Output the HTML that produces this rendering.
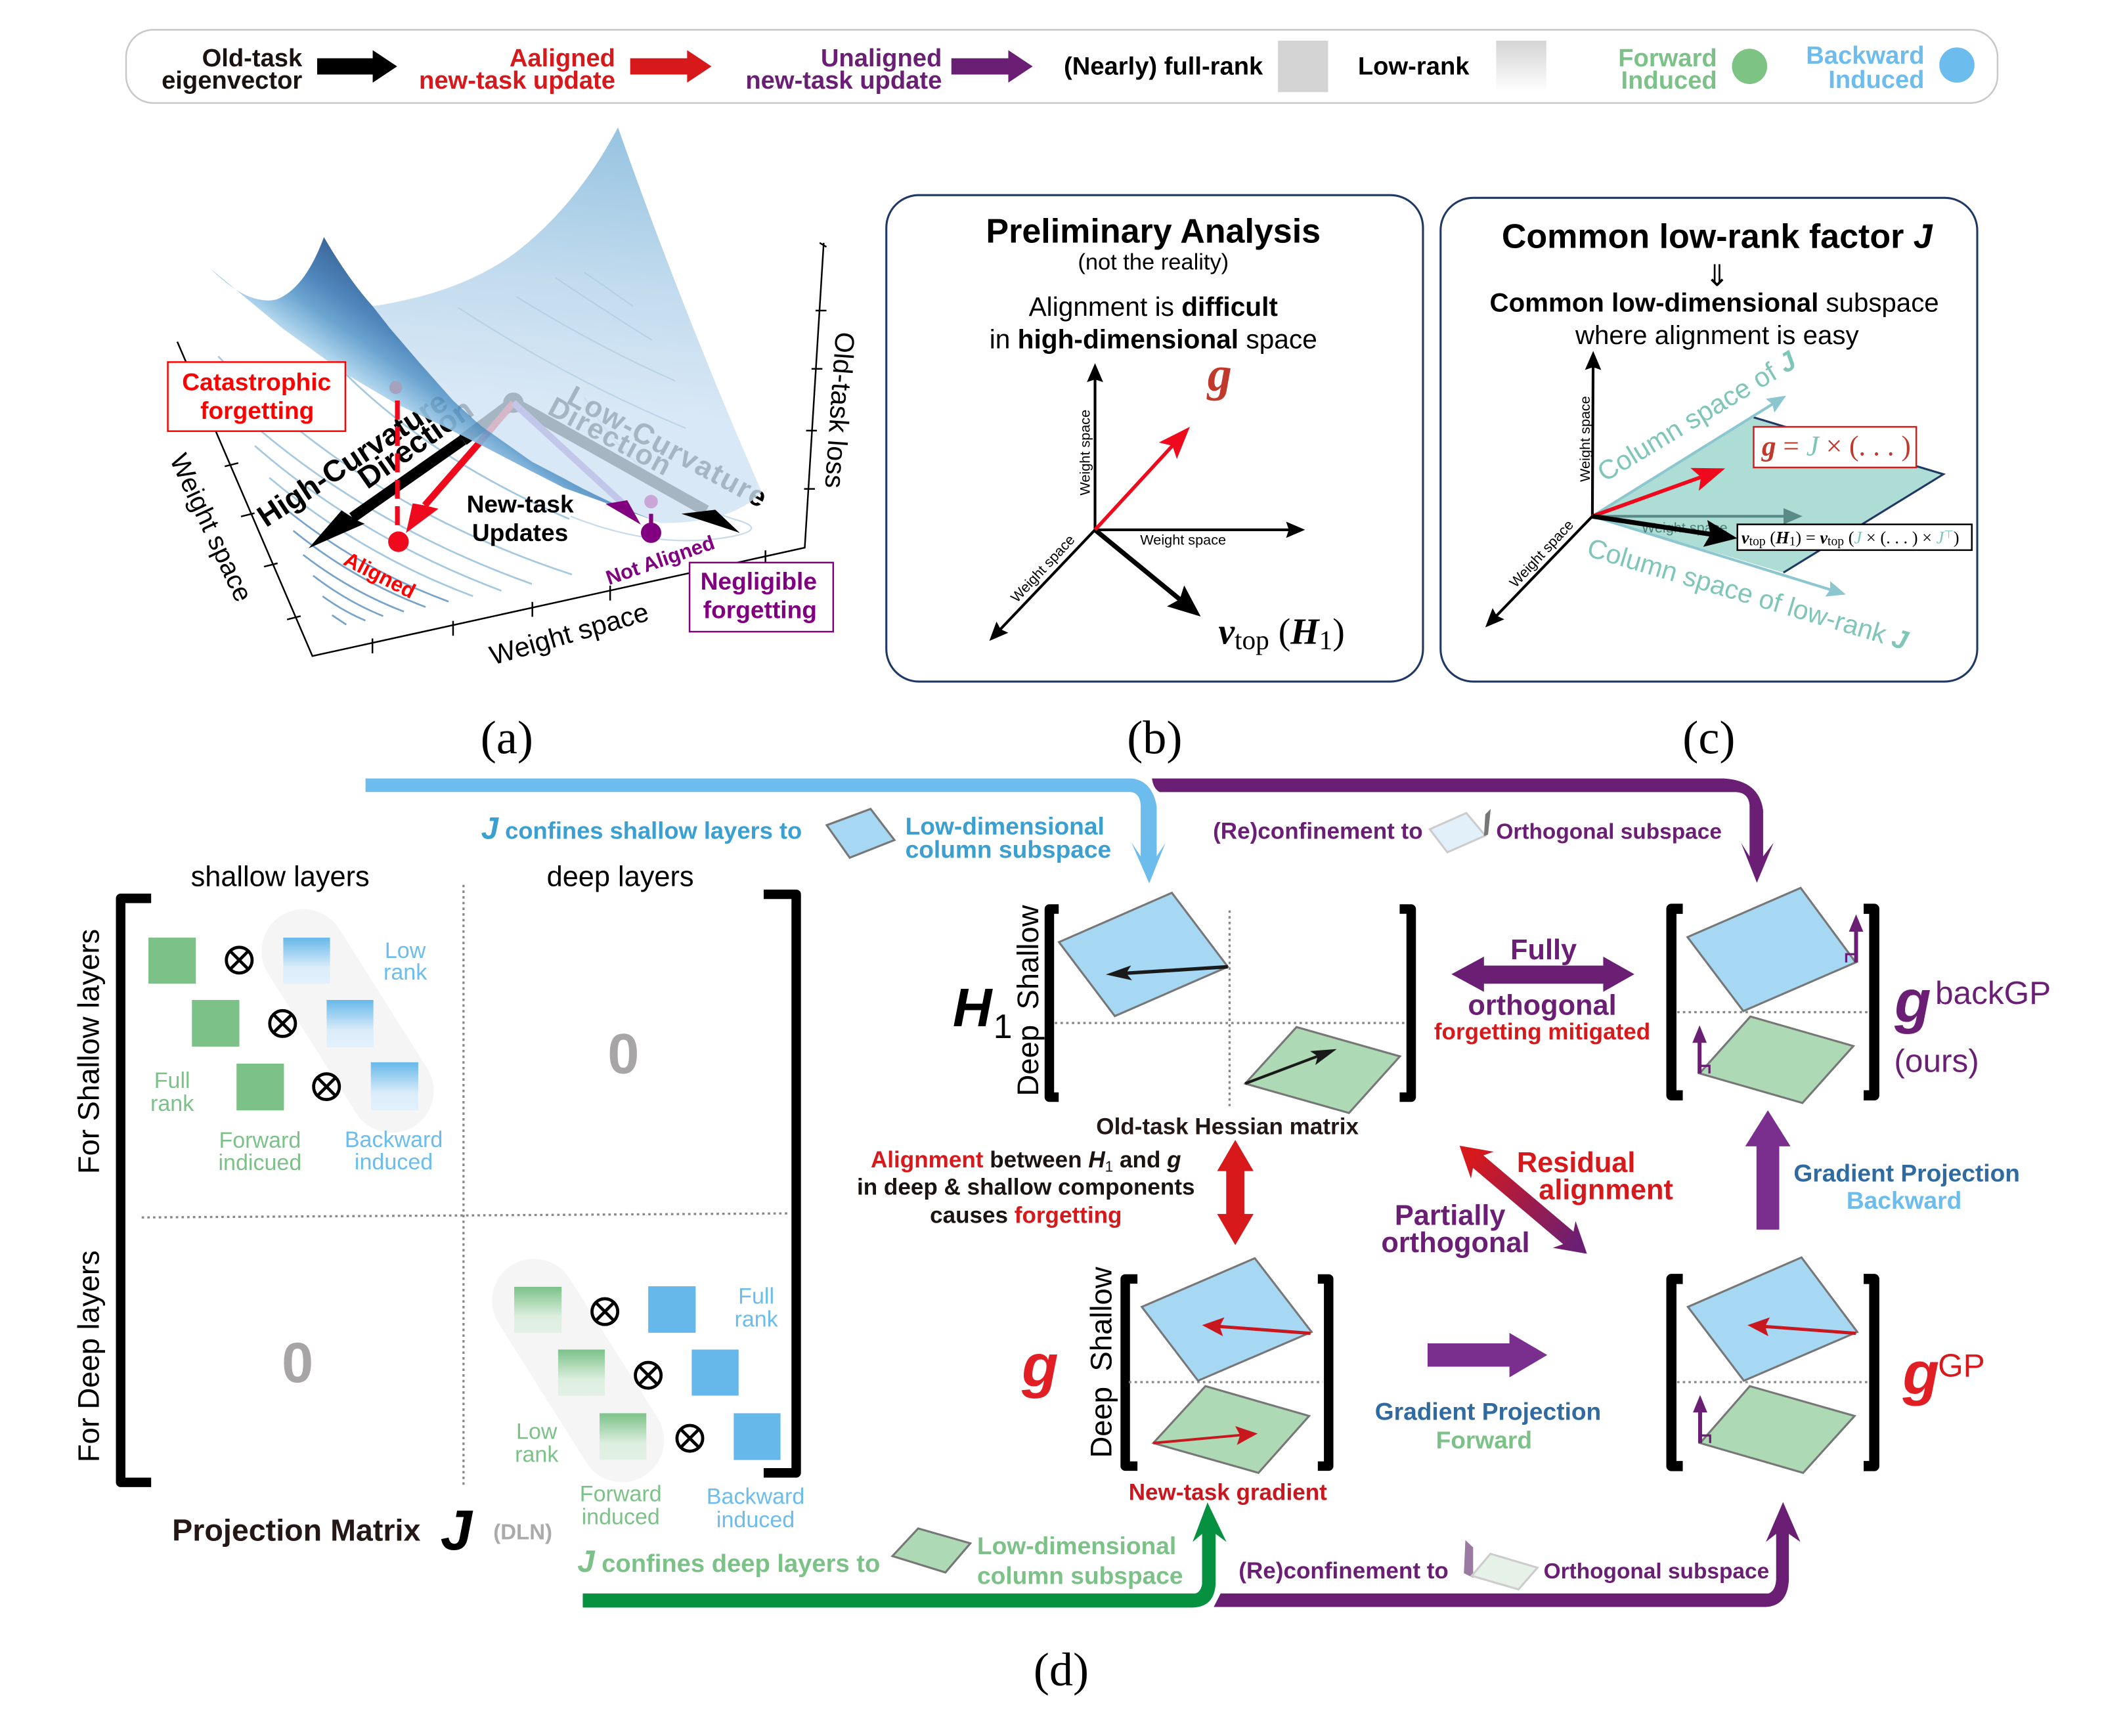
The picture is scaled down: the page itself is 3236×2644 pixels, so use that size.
<!DOCTYPE html>
<html><head><meta charset="utf-8"><style>
html,body{margin:0;padding:0;background:#fff}
svg{display:block}
text{font-family:"Liberation Sans",sans-serif}
.s{font-family:"Liberation Serif",serif}
.m{text-anchor:middle}
.e{text-anchor:end}
.bi{font-weight:bold;font-style:italic}
.dot{stroke:#888;stroke-width:1.6;stroke-dasharray:1.8 2.4;fill:none}
.br{fill:none;stroke:#000;stroke-width:7;stroke-linejoin:round}
.pb{fill:#a6d7f3;stroke:#777;stroke-width:1.5}
.pg{fill:#add9b4;stroke:#777;stroke-width:1.5}
.tr{stroke-dasharray:95 100}
</style></head><body>
<svg xmlns="http://www.w3.org/2000/svg" width="3236" height="2644" viewBox="0 0 1568 1281.2">
<defs>
<linearGradient id="gg" x1="0" y1="0" x2="0" y2="1"><stop offset="0" stop-color="#d4d4d4"/><stop offset="1" stop-color="#fff"/></linearGradient>
<linearGradient id="bq" x1="0" y1="0" x2="0" y2="1"><stop offset="0" stop-color="#66b8ea"/><stop offset=".65" stop-color="#dcedf9"/><stop offset="1" stop-color="#e2f1fb"/></linearGradient>
<linearGradient id="gq" x1="0" y1="0" x2="0" y2="1"><stop offset="0" stop-color="#7cc288"/><stop offset=".65" stop-color="#ddeee0"/><stop offset="1" stop-color="#e2f1e5"/></linearGradient>
<linearGradient id="sd" gradientUnits="userSpaceOnUse" x1="306" y1="222" x2="261.5" y2="286"><stop offset="0" stop-color="#2a5a92"/><stop offset=".36" stop-color="#3f7cb6"/><stop offset=".6" stop-color="#5f9ccc"/><stop offset=".85" stop-color="#9ac8e6"/><stop offset="1" stop-color="#c6e0f2"/></linearGradient>
<linearGradient id="sl" gradientUnits="userSpaceOnUse" x1="440" y1="100" x2="420" y2="300"><stop offset="0" stop-color="#7fb6da"/><stop offset=".55" stop-color="#b4d3ea"/><stop offset="1" stop-color="#cfe2f3"/></linearGradient>
<linearGradient id="dg" gradientUnits="userSpaceOnUse" x1="1085" y1="855" x2="1165" y2="918"><stop offset="0" stop-color="#d7191c"/><stop offset="1" stop-color="#6a1f75"/></linearGradient>
<marker id="mk" markerWidth="18" markerHeight="14" refX="14" refY="6" orient="auto" markerUnits="userSpaceOnUse"><path d="M0,0L14,6L0,12L2,6Z" fill="#000"/></marker>
<marker id="mk2" markerWidth="28" markerHeight="22" refX="24" refY="10" orient="auto" markerUnits="userSpaceOnUse"><path d="M0,0L24,10L0,20L4,10Z" fill="#000"/></marker>
<marker id="mr" markerWidth="28" markerHeight="22" refX="24" refY="9" orient="auto" markerUnits="userSpaceOnUse"><path d="M0,0L24,9L0,18L5,9Z" fill="#ee0a1c"/></marker>
<marker id="mkd" markerWidth="22" markerHeight="14" refX="19" refY="5.5" orient="auto" markerUnits="userSpaceOnUse"><path d="M0,0L19,5.5L0,11L4,5.5Z" fill="#1a1a1a"/></marker>
<marker id="mr2" markerWidth="20" markerHeight="16" refX="16" refY="7" orient="auto" markerUnits="userSpaceOnUse"><path d="M0,0L16,7L0,14L3,7Z" fill="#c8171e"/></marker>
<marker id="mt" markerWidth="18" markerHeight="14" refX="14" refY="6" orient="auto" markerUnits="userSpaceOnUse"><path d="M0,0L14,6L0,12L2,6Z" fill="#8cc6cf"/></marker>
<marker id="md" markerWidth="18" markerHeight="14" refX="14" refY="6" orient="auto" markerUnits="userSpaceOnUse"><path d="M0,0L14,6L0,12L0,6Z" fill="#5a8a85"/></marker>
</defs>
<rect width="1568" height="1282" fill="#fff"/>

<!-- Legend -->
<rect x="93" y="22" width="1381" height="54" rx="20" fill="#fff" stroke="#c8c8c8" stroke-width="1.2"/>
<g font-size="18.5" font-weight="bold">
<text class="e" x="223" y="49" fill="#1a1311">Old-task</text><text class="e" x="223" y="65.5" fill="#1a1311">eigenvector</text>
<text class="e" x="454" y="49" fill="#d7191c">Aaligned</text><text class="e" x="454" y="65.5" fill="#d7191c">new-task update</text>
<text class="e" x="695" y="49" fill="#6a1f75">Unaligned</text><text class="e" x="695" y="65.5" fill="#6a1f75">new-task update</text>
<text x="785" y="55" fill="#000">(Nearly) full-rank</text>
<text x="1002" y="55" fill="#000">Low-rank</text>
<text class="e" x="1267" y="49" fill="#7cc288">Forward</text><text class="e" x="1267" y="65.5" fill="#7cc288">Induced</text>
<text class="e" x="1420" y="47" fill="#6cbced">Backward</text><text class="e" x="1420" y="65" fill="#6cbced">Induced</text>
</g>
<path d="M234,43H275V37L293,49L275,61V55H234Z" fill="#000"/>
<path d="M465,43H507V37L525,49L507,61V55H465Z" fill="#d7191c"/>
<path d="M702,43H744V37L762,49L744,61V55H702Z" fill="#6a1f75"/>
<rect x="943" y="30" width="37" height="38" fill="#d4d4d4"/>
<rect x="1104" y="30" width="37" height="38" fill="url(#gg)"/>
<circle cx="1291" cy="49" r="13" fill="#7dc383"/>
<circle cx="1444" cy="48" r="13" fill="#6cbced"/>

<!-- Panel a floor -->
<g transform="translate(0.8,1.2)">
<g fill="none" stroke="#000" stroke-width="1.2">
<path d="M130,251L229.7,483L593,403L607,178"/>
<path d="M165,343l10,-2.5M177,380l10,-2.5M194,417l10,-2.5M211,456l10,-2.5"/>
<path d="M274,470v11M333.5,457v11M392,443v11M449.4,431v11M564,405v11"/>
<path d="M601,228h8M598,271h8M594,316.6h8M592.5,359.6h8M604,178l5,3"/>
</g>
</g>
<g fill="none" stroke="#5f93c2" stroke-width="1.3" opacity=".85">
<path d="M245,454Q251,458 255.5,461"/>
<path d="M238,440Q253,451 269.6,458"/>
<path d="M231,424.8Q256,444 282.7,454.7"/>
<path d="M223.7,409.5Q258,436 298,451.4"/>
<path d="M216.4,391.7Q261,428 314,448"/>
<path d="M207.5,373Q263,419 331,444"/>
</g>
<g fill="none" stroke="#9cc3de" stroke-width="1.3" opacity=".9">
<path d="M198.7,352.6Q266,409 349,440"/>
<path d="M188,329Q266,397 370,436"/>
<path d="M173,301Q266,386 392.5,431"/>
<path d="M161,263Q266,373 422,424"/>
<path d="M255,276Q320,340 420,383"/>
</g>
<path d="M431,293Q471,361 541,383Q571,391 534,397Q481,405 421,381" fill="none" stroke="#c6dcec" stroke-width="1.1"/>
<!-- a: under-surface items -->
<path d="M378.8,297.2L341.6,324.7" stroke="#000" stroke-width="9" fill="none"/>
<path d="M378.8,297.2L521,377" stroke="#000" stroke-width="8.5" fill="none"/>
<circle cx="378.8" cy="297.2" r="7.5" fill="#000"/>
<path d="M378.8,297.2L351.3,329.5" stroke="#ee0a1c" stroke-width="5" fill="none"/>
<path d="M378.8,297.2L459,371" stroke="#8e5cc0" stroke-width="5" fill="none"/>
<g font-weight="bold" fill="#000">
<text transform="translate(196.3,389.6) rotate(-33.3)" font-size="22.3">High-Curvature</text>
<text transform="translate(271,361.5) rotate(-35)" font-size="22.5">Direction</text>
<text transform="translate(417,297) rotate(28.5)" font-size="21.5" letter-spacing="1">Low-Curvature</text>
<text transform="translate(403,305) rotate(28)" font-size="21" letter-spacing="1">Direction</text>
</g>
<!-- surface -->
<path d="M275,226Q341,216 381,186Q426,151 456,94C476,151 513,251 562,363Q541,386 488,386L416,360L392.5,345L353.7,313.4L334.3,295.6L308.5,266.5L287.5,242Z" fill="url(#sl)" opacity=".8"/>
<g fill="none" stroke="#a9c8de" stroke-width="1" opacity=".6">
<path d="M431,201Q446,211 467,226"/>
<path d="M410,205Q441,226 481,251"/>
<path d="M381,219Q441,256 498,281"/>
<path d="M338,227Q421,281 506,316"/>
</g>
<path d="M155,198Q183,226 204,221Q225,213 239,175Q257,206 275,226L287.5,242L308.5,266.5L334.3,295.6L353.7,313.4L392.5,340.8L416,353Q450,372 488,386L416,360L392.5,348L357,329.5L324.7,313.4L292.4,298L255,276L208.4,242.3Z" fill="url(#sd)" opacity=".92"/>
<!-- a: over-surface -->
<path d="M341.6,324.7L260,382" stroke="#000" stroke-width="8" fill="none"/>
<path d="M227.7,404.6L252,376.7L257,380L264,384.4L269,386.5Z" fill="#000"/>
<path d="M351.3,329.5L313.4,373" stroke="#ee0a1c" stroke-width="5" fill="none"/>
<path d="M299.6,393.3L304.5,371.5L313.4,373L323.5,375.5Z" fill="#ee0a1c"/>
<path d="M293.2,295.6V393" stroke="#ee0a1c" stroke-width="3.5" stroke-dasharray="14 5.5" fill="none"/>
<circle cx="292" cy="286" r="4.8" fill="#a6a2bd"/>
<circle cx="294" cy="399.8" r="7.6" fill="#ee0a1c"/>
<g transform="translate(0.8,1.2)">
<path d="M472,386L446,370.7L462,368Z" fill="#800080"/>
<circle cx="479.6" cy="392" r="7.5" fill="#800080"/>
<path d="M479.6,378V388" stroke="#800080" stroke-width="3"/>
<circle cx="479.6" cy="369" r="5" fill="#c9a6d6"/>
<path d="M545,392L502,378L527,375Z" fill="#000"/>
<rect x="123" y="266" width="131" height="51" fill="#fff" stroke="#f00" stroke-width="1.2"/>
<text class="m" x="188.5" y="287" font-size="18" font-weight="bold" fill="#f00">Catastrophic</text>
<text class="m" x="189" y="308" font-size="18" font-weight="bold" fill="#f00">forgetting</text>
<rect x="508" y="414" width="106" height="51" fill="#fff" stroke="#800080" stroke-width="1.2"/>
<text class="m" x="559" y="434" font-size="18" font-weight="bold" fill="#800080">Negligible</text>
<text class="m" x="560" y="455" font-size="18" font-weight="bold" fill="#800080">forgetting</text>
<text class="m" x="383" y="377" font-size="18" font-weight="bold">New-task</text>
<text class="m" x="383" y="398" font-size="18" font-weight="bold">Updates</text>
<text class="m" transform="translate(277,428) rotate(27)" font-size="15.5" font-weight="bold" fill="#f00">Aligned</text>
<text class="m" transform="translate(488,417) rotate(-19)" font-size="15" font-weight="bold" fill="#800080">Not Aligned</text>
<text class="m" transform="translate(149,391) rotate(65)" font-size="19.5">Weight space</text>
<text class="m" transform="translate(421,473) rotate(-16)" font-size="20">Weight space</text>
<text class="m" transform="translate(612,301) rotate(94)" font-size="20">Old-task loss</text>
</g>

<text class="s m" x="374" y="556" font-size="35">(a)</text>
<text class="s m" x="852" y="556" font-size="35">(b)</text>
<text class="s m" x="1261" y="556" font-size="35">(c)</text>
<text class="s m" x="783" y="1244" font-size="35">(d)</text>

<!-- Panel b -->
<rect x="654" y="144" width="396" height="359" rx="24" fill="#fff" stroke="#1f3864" stroke-width="1.5"/>
<text class="m" x="851" y="179" font-size="25.2" font-weight="bold">Preliminary Analysis</text>
<text class="m" x="851" y="199" font-size="16.7">(not the reality)</text>
<text class="m" x="851" y="233" font-size="19.7">Alignment is <tspan font-weight="bold">difficult</tspan></text>
<text class="m" x="851" y="257" font-size="19.7">in <tspan font-weight="bold">high-dimensional</tspan> space</text>
<g fill="none" stroke="#000" stroke-width="2">
<line class="tr" pathLength="100" x1="808" y1="391" x2="808" y2="268" marker-end="url(#mk)"/>
<line class="tr" pathLength="100" x1="808" y1="391" x2="963" y2="391" marker-end="url(#mk)"/>
<line class="tr" pathLength="100" x1="808" y1="391" x2="730" y2="473" marker-end="url(#mk)"/>
<line class="tr" pathLength="100" x1="808" y1="391" x2="886" y2="455" stroke-width="3.5" marker-end="url(#mk2)"/>
<line class="tr" pathLength="100" x1="808" y1="391" x2="878" y2="315" stroke="#ee0a1c" stroke-width="2.6" marker-end="url(#mr)"/>
</g>
<text class="s bi" x="891" y="288" font-size="36" fill="#c0392b">g</text>
<text class="m" transform="translate(804,334) rotate(-90)" font-size="10.5">Weight space</text>
<text class="m" x="873" y="402" font-size="10.5">Weight space</text>
<text class="m" transform="translate(772,422) rotate(-47)" font-size="10.5">Weight space</text>
<text class="s" x="899" y="475" font-size="27"><tspan font-weight="bold" font-style="italic">v</tspan><tspan font-size="20" dy="4">top</tspan><tspan dy="-4"> (</tspan><tspan font-weight="bold" font-style="italic">H</tspan><tspan font-size="20" dy="4">1</tspan><tspan dy="-4">)</tspan></text>

<!-- Panel c -->
<rect x="1063" y="146" width="396" height="357" rx="24" fill="#fff" stroke="#1f3864" stroke-width="1.5"/>
<text class="m" x="1267" y="183" font-size="25.2" font-weight="bold">Common low-rank factor <tspan font-style="italic">J</tspan></text>
<text class="m" x="1267" y="211" font-size="22" style="font-family:'DejaVu Sans',sans-serif">⇓</text>
<text class="m" x="1265" y="230" font-size="19.5"><tspan font-weight="bold">Common low-dimensional</tspan> subspace</text>
<text class="m" x="1267" y="254" font-size="19.5">where alignment is easy</text>
<path d="M1175,381L1294,308L1434,350L1316,422.6Z" fill="#aeddd6"/>
<path d="M1294,308L1434,350L1316,422.6" fill="none" stroke="#1f3864" stroke-width="1.5"/>
<g fill="none" stroke-width="2">
<line class="tr" pathLength="100" x1="1175" y1="381" x2="1318" y2="292" stroke="#8cc6cf" marker-end="url(#mt)"/>
<line class="tr" pathLength="100" x1="1175" y1="381" x2="1362" y2="438.7" stroke="#8cc6cf" marker-end="url(#mt)"/>
<line class="tr" pathLength="100" x1="1175" y1="381" x2="1175.6" y2="259" stroke="#000" marker-end="url(#mk)"/>
<line class="tr" pathLength="100" x1="1175" y1="381" x2="1330" y2="381" stroke="#5a8a85" marker-end="url(#md)"/>
<line class="tr" pathLength="100" x1="1175" y1="381" x2="1096" y2="463" stroke="#000" marker-end="url(#mk)"/>
</g>
<text class="m" x="1243" y="393" font-size="10.5" fill="#4f7f79">Weight space</text>
<g fill="none">
<line class="tr" pathLength="100" x1="1175" y1="381" x2="1273" y2="345.7" stroke="#ee0a1c" stroke-width="2.8" marker-end="url(#mr)"/>
<line class="tr" pathLength="100" x1="1175" y1="381" x2="1282" y2="397.3" stroke="#000" stroke-width="3.5" marker-end="url(#mk2)"/>
</g>
<rect x="1294" y="315" width="120" height="30" fill="#fff" stroke="#d7191c" stroke-width="1.2"/>
<text class="s" x="1300" y="336" font-size="21" fill="#c0392b"><tspan font-weight="bold" font-style="italic">g</tspan> = <tspan fill="#7fc6b8" font-style="italic">J</tspan> × (. . . )</text>
<rect x="1282" y="387" width="173" height="19" fill="#fff" stroke="#000" stroke-width="1.2"/>
<text class="s" x="1285" y="401" font-size="12.8"><tspan font-weight="bold" font-style="italic">v</tspan><tspan font-size="9.5" dy="1.5">top</tspan><tspan dy="-1.5"> (</tspan><tspan font-weight="bold" font-style="italic">H</tspan><tspan font-size="9.5" dy="1.5">1</tspan><tspan dy="-1.5">) = </tspan><tspan font-weight="bold" font-style="italic">v</tspan><tspan font-size="9.5" dy="1.5">top</tspan><tspan dy="-1.5"> (</tspan><tspan fill="#7fc6b8" font-style="italic">J</tspan> × (. . . ) × <tspan fill="#7fc6b8" font-style="italic">J</tspan><tspan fill="#7fc6b8" font-size="8" dy="-4">⊤</tspan><tspan dy="4">)</tspan></text>
<text transform="translate(1184,356) rotate(-31)" font-size="20" fill="#7fc6b8">Column space of <tspan font-weight="bold" font-style="italic">J</tspan></text>
<text transform="translate(1170,410) rotate(16.5)" font-size="19.8" fill="#7fc6b8">Column space of low-rank <tspan font-weight="bold" font-style="italic">J</tspan></text>
<text class="m" transform="translate(1173,324) rotate(-90)" font-size="10.5">Weight space</text>
<text class="m" transform="translate(1140,411) rotate(-47)" font-size="10.5">Weight space</text>

<!-- Panel d left matrix -->
<path d="M224,702L289,805" stroke="#f5f5f5" stroke-width="62" stroke-linecap="round"/>
<path d="M394,960L459,1063" stroke="#f5f5f5" stroke-width="62" stroke-linecap="round"/>
<path d="M111.5,663H89V1094H111.5" fill="none" stroke="#000" stroke-width="7" stroke-linejoin="round"/>
<path d="M563.5,660H587.5V1087H563.5" fill="none" stroke="#000" stroke-width="7" stroke-linejoin="round"/>
<path class="dot" d="M342,653V1098"/>
<path class="dot" d="M104.5,898.5L582,895.5"/>
<text class="m" x="206.7" y="654" font-size="21">shallow layers</text>
<text class="m" x="457.7" y="654" font-size="21">deep layers</text>
<text class="m" transform="translate(73,776) rotate(-90)" font-size="22">For Shallow layers</text>
<text class="m" transform="translate(73,1001) rotate(-90)" font-size="22">For Deep layers</text>
<g fill="#7cc288"><rect x="109.5" y="692" width="35" height="34"/><rect x="141.6" y="738" width="35" height="34.5"/><rect x="174.5" y="785" width="35" height="34.5"/></g>
<g fill="url(#bq)"><rect x="209" y="692" width="34.5" height="34"/><rect x="241" y="738" width="34.5" height="35"/><rect x="273.6" y="784" width="35" height="35.5"/></g>
<g fill="url(#gq)"><rect x="379.4" y="949.7" width="35" height="34"/><rect x="411.8" y="996" width="34.5" height="34"/><rect x="442.4" y="1043" width="34.5" height="34.5"/></g>
<g fill="#66b8ea"><rect x="478.3" y="949.3" width="35" height="34.3"/><rect x="510.4" y="996" width="34.6" height="34"/><rect x="541.4" y="1043" width="34.5" height="34.5"/></g>
<g fill="none" stroke="#000" stroke-width="2.3">
<g transform="translate(176.5,708.6)"><circle r="9.5"/><path d="M-6.7,-6.7L6.7,6.7M6.7,-6.7L-6.7,6.7"/></g>
<g transform="translate(208.5,755.4)"><circle r="9.5"/><path d="M-6.7,-6.7L6.7,6.7M6.7,-6.7L-6.7,6.7"/></g>
<g transform="translate(240.9,802)"><circle r="9.5"/><path d="M-6.7,-6.7L6.7,6.7M6.7,-6.7L-6.7,6.7"/></g>
<g transform="translate(446.3,968)"><circle r="9.5"/><path d="M-6.7,-6.7L6.7,6.7M6.7,-6.7L-6.7,6.7"/></g>
<g transform="translate(478.3,1015)"><circle r="9.5"/><path d="M-6.7,-6.7L6.7,6.7M6.7,-6.7L-6.7,6.7"/></g>
<g transform="translate(509,1061.5)"><circle r="9.5"/><path d="M-6.7,-6.7L6.7,6.7M6.7,-6.7L-6.7,6.7"/></g>
</g>
<g font-size="16.5" text-anchor="middle">
<text x="299" y="707" fill="#6cbced">Low</text><text x="299" y="723" fill="#6cbced">rank</text>
<text x="127" y="803" fill="#7cc288">Full</text><text x="127" y="820" fill="#7cc288">rank</text>
<text x="191.8" y="847" fill="#7cc288">Forward</text><text x="191.8" y="863.5" fill="#7cc288">indicued</text>
<text x="290.5" y="846.5" fill="#6cbced">Backward</text><text x="290.5" y="863" fill="#6cbced">induced</text>
<text x="558" y="962" fill="#6cbced">Full</text><text x="558" y="979" fill="#6cbced">rank</text>
<text x="396" y="1062" fill="#7cc288">Low</text><text x="396" y="1079" fill="#7cc288">rank</text>
<text x="458" y="1108" fill="#7cc288">Forward</text><text x="458" y="1125" fill="#7cc288">induced</text>
<text x="557.5" y="1110" fill="#6cbced">Backward</text><text x="557.5" y="1127" fill="#6cbced">induced</text>
</g>
<text class="m" x="460" y="792" font-size="42" font-weight="bold" fill="#a7a5a6">0</text>
<text class="m" x="219.5" y="1020" font-size="42" font-weight="bold" fill="#a7a5a6">0</text>
<text x="127" y="1137" font-size="22.6" font-weight="bold" fill="#231815">Projection Matrix</text>
<text x="325" y="1143.5" font-size="42" font-weight="bold" font-style="italic" fill="#000">J</text>
<text x="364" y="1136" font-size="16" font-weight="bold" fill="#aaa">(DLN)</text>

<!-- Top connector -->
<path d="M269.7,574.5H835Q850,576 853.5,595V632L860,622L848,652L835,622L841.7,632V594Q841,585 834,584.5H269.7Z" fill="#6cbced"/>
<path d="M850,574.5H1272Q1298,576 1301,598V632L1308.7,622L1296.4,651.5L1284.7,622L1291,632V594Q1290,585 1281,584.6H855.7Q851,582 850,574.5Z" fill="#6a1f75"/>
<text x="355" y="619" font-weight="bold" fill="#3a9fd1" font-size="17.6"><tspan font-style="italic" font-size="23">J</tspan> confines shallow layers to</text>
<path class="pb" d="M642.4,597L660,620L627,633L610,609Z"/>
<text x="668" y="616" font-size="18" font-weight="bold" fill="#3a9fd1">Low-dimensional</text>
<text x="668" y="633" font-size="18" font-weight="bold" fill="#3a9fd1">column subspace</text>
<text x="895" y="619" font-size="17" font-weight="bold" fill="#6a1f75">(Re)confinement to</text>
<path d="M1082,600L1096,616.7L1068,629L1055,612Z" fill="#e2f0f9" stroke="#ccc" stroke-width="1.5"/>
<path d="M1100,597L1096,601L1095,617L1098,616Z" fill="#777"/>
<text x="1104" y="619" font-size="16.2" font-weight="bold" fill="#6a1f75">Orthogonal subspace</text>

<!-- H1 matrix -->
<text transform="translate(766,745) rotate(-90)" font-size="22">Shallow</text>
<text transform="translate(766,809) rotate(-90)" font-size="22">Deep</text>
<path class="br" d="M781.2,670.9H774.3V809.7H781.2"/>
<path class="br" d="M1032.8,670.9H1041.3V809.7H1032.8"/>
<path class="dot" d="M778.3,755H1037.6"/>
<path class="dot" d="M907.3,671.9V816.4"/>
<path class="pb" d="M864.7,658.9L906,713.5L822.6,749.9L781.4,695.3Z"/>
<path class="pg" d="M956.7,758L1033,779.6L995.4,821.4L918.8,799.7Z"/>
<g fill="none">
<line class="tr" pathLength="100" x1="906" y1="713.5" x2="816" y2="719.2" stroke="#1a1a1a" stroke-width="2.6" marker-end="url(#mkd)"/>
<line class="tr" pathLength="100" x1="918.8" y1="799.7" x2="986.4" y2="774.2" stroke="#1a1a1a" stroke-width="2" marker-end="url(#mkd)"/>
</g>
<text x="703" y="757.5" font-size="40" font-weight="bold" font-style="italic">H</text>
<text x="733" y="766" font-size="25">1</text>
<text class="m" x="905.7" y="837" font-size="17" font-weight="bold" fill="#231815">Old-task Hessian matrix</text>

<!-- Fully -->
<text class="m" x="1139" y="708" font-size="21" font-weight="bold" fill="#6a1f75">Fully</text>
<path d="M1071,719L1095,706V712.6H1183V706L1206,719L1183,732V726H1095V732Z" fill="#6a1f75"/>
<text class="m" x="1138" y="749" font-size="21" font-weight="bold" fill="#6a1f75">orthogonal</text>
<text class="m" x="1138" y="767" font-size="17" font-weight="bold" fill="#d7191c">forgetting mitigated</text>

<!-- gbackGP -->
<path class="br" stroke-width="7.5" style="stroke-width:7.5" d="M1241.7,670.7H1233.3V808.4H1241.7"/>
<path class="br" style="stroke-width:7.5" d="M1375.2,670.7H1383V808.4H1375.2"/>
<path class="dot" d="M1237.6,747H1378.5"/>
<path class="pb" d="M1328.7,655.3L1369.3,710.3L1286.4,746.2L1245.2,691.6Z"/>
<path class="pg" d="M1291.6,750.2L1367.6,772L1330,814L1254.1,792.2Z"/>
<g fill="none" stroke="#6a1f75">
<path d="M1369.6,710.3V686" stroke-width="2.9"/>
<path d="M1254.1,792.2V768" stroke-width="2.9"/>
<path d="M1362.3,710.3V704.2H1369.6" stroke-width="1.6"/>
<path d="M1254,786.6H1261.4V792.2" stroke-width="1.6"/>
</g>
<path d="M1369.6,674.8L1374.9,687.6H1364.3Z" fill="#6a1f75"/>
<path d="M1254.1,756.7L1259.4,769.6H1248.8Z" fill="#6a1f75"/>
<text x="1398" y="754" font-size="44" font-weight="bold" font-style="italic" fill="#6a1f75">g</text>
<text x="1428" y="741" font-size="24" fill="#6a1f75">backGP</text>
<text class="m" x="1429" y="791" font-size="24" fill="#6a1f75">(ours)</text>

<!-- Alignment area -->
<path d="M911.5,841.3L925,864.3H918.2V895.9H925L911.5,918.9L898.1,895.9H904.8V864.3H898.1Z" fill="#d7191c"/>
<g text-anchor="middle" font-size="17" font-weight="bold">
<text x="757" y="861.6" fill="#1a1311"><tspan fill="#d7191c">Alignment</tspan> between <tspan font-style="italic">H</tspan><tspan font-size="11" dy="3" font-weight="normal">1</tspan><tspan dy="-3"> and </tspan><tspan font-style="italic">g</tspan></text>
<text x="757" y="881.7" fill="#1a1311">in deep &amp; shallow components</text>
<text x="757" y="902.6" fill="#1a1311">causes <tspan fill="#d7191c">forgetting</tspan></text>
</g>
<g transform="translate(0,0)">
<path d="M1077,845.6L1102.2,850L1094.6,852.7L1161.1,909L1162.6,901.1L1171,925.3L1145.8,920.9L1153.4,918.2L1086.9,861.9L1085.4,869.8Z" fill="url(#dg)"/>
</g>
<text class="m" x="1163" y="865" font-size="21" font-weight="bold" fill="#d7191c">Residual</text>
<text class="m" x="1185" y="885" font-size="21" font-weight="bold" fill="#d7191c">alignment</text>
<text class="m" x="1070" y="904" font-size="21" font-weight="bold" fill="#6a1f75">Partially</text>
<text class="m" x="1074" y="924" font-size="21" font-weight="bold" fill="#6a1f75">orthogonal</text>
<text class="m" x="1407" y="872" font-size="18" font-weight="bold" fill="#2f6aa0">Gradient Projection</text>
<text class="m" x="1405" y="892" font-size="18" font-weight="bold" fill="#6cbced">Backward</text>
<path d="M1304.5,819.4L1321.2,846H1312.9V907.5H1296.1V846H1287.8Z" fill="#7a2f8e"/>

<!-- g matrix -->
<text transform="translate(820,1012) rotate(-90)" font-size="22">Shallow</text>
<text transform="translate(820,1076) rotate(-90)" font-size="22">Deep</text>
<path class="br" d="M839.3,943.9H830.3V1082H839.3"/>
<path class="br" d="M972.4,943.9H980.4V1082H972.4"/>
<path class="dot" d="M833,1020H976"/>
<path class="pb" d="M925.9,928.6L967.8,983L884,1019L842.5,964.5Z"/>
<path class="pg" d="M889.5,1023L966,1045L928.6,1087L851,1065Z"/>
<g fill="none">
<line class="tr" pathLength="100" x1="967" y1="984" x2="887" y2="978" stroke="#c8171e" stroke-width="2.4" marker-end="url(#mr2)"/>
<line class="tr" pathLength="100" x1="851" y1="1065" x2="928" y2="1058" stroke="#c8171e" stroke-width="1.9" marker-end="url(#mr2)"/>
</g>
<text x="754" y="1023" font-size="44" font-weight="bold" font-style="italic" fill="#e01e23">g</text>
<text class="m" x="906" y="1107" font-size="17" font-weight="bold" fill="#c8171e">New-task gradient</text>

<!-- gGP -->
<path class="br" style="stroke-width:7.5" d="M1241.7,943.9H1233.3V1082H1241.7"/>
<path class="br" style="stroke-width:7.5" d="M1375.2,943.9H1383V1082H1375.2"/>
<g transform="translate(-1.5,0)">
<path class="dot" d="M1239,1020H1381"/>
<path class="pb" d="M1330.8,928L1372,983L1288.3,1019L1247,964.5Z"/>
<path class="pg" d="M1292.7,1023L1370,1045L1332,1087L1256,1065Z"/>
<line class="tr" pathLength="100" x1="1371" y1="984" x2="1291" y2="978" stroke="#c8171e" stroke-width="2.4" marker-end="url(#mr2)"/>
<g fill="none" stroke="#6a1f75">
<path d="M1256,1065V1040" stroke-width="2.9"/>
<path d="M1256,1059.4H1263.4V1065" stroke-width="1.6"/>
</g>
<path d="M1256,1029.5L1261.3,1042.4H1250.7Z" fill="#6a1f75"/>
</g>
<text x="1404" y="1028.6" font-size="44" font-weight="bold" font-style="italic" fill="#e01e23">g</text>
<text x="1430" y="1016" font-size="24" fill="#d7191c">GP</text>

<!-- forward arrow -->
<path d="M1053.4,991.4H1113.8V983.7L1141.7,1000L1113.8,1016.5V1008.6H1053.4Z" fill="#7a2f8e"/>
<text class="m" x="1098" y="1048" font-size="18" font-weight="bold" fill="#2f6aa0">Gradient Projection</text>
<text class="m" x="1095" y="1069" font-size="18" font-weight="bold" fill="#7cc288">Forward</text>

<!-- Bottom connectors -->
<path d="M430,1176H882Q886,1175 887,1169V1132L880,1138L891,1108.8L905,1138L897,1132V1169Q896,1186 880,1186.4H430Z" fill="#05913f"/>
<path d="M900.7,1176H1305Q1310,1174 1310.6,1166V1132L1303,1138L1315.7,1108.5L1328.5,1138L1320,1132V1166Q1319,1185 1303,1186H895.6Z" fill="#6a1f75"/>
<text x="426" y="1160" font-size="18.5" font-weight="bold" fill="#7cc288"><tspan font-style="italic" font-size="23">J</tspan> confines deep layers to</text>
<path class="pg" d="M677.5,1128L716,1139L697.6,1160.5L658.5,1148.4Z"/>
<text x="721" y="1147" font-size="18" font-weight="bold" fill="#7cc288">Low-dimensional</text>
<text x="721" y="1169" font-size="18" font-weight="bold" fill="#7cc288">column subspace</text>
<text x="914" y="1165" font-size="17" font-weight="bold" fill="#6a1f75">(Re)confinement to</text>
<path d="M1081.3,1136.6L1087,1142V1164.5L1080.2,1161Z" fill="#9a7aa0"/>
<path d="M1099.8,1146.7L1134.5,1157L1120.5,1173L1086,1163Z" fill="#e6f2e8" stroke="#ccc" stroke-width="1.5"/>
<text x="1139" y="1165" font-size="16.2" font-weight="bold" fill="#6a1f75">Orthogonal subspace</text>
</svg>
</body></html>
